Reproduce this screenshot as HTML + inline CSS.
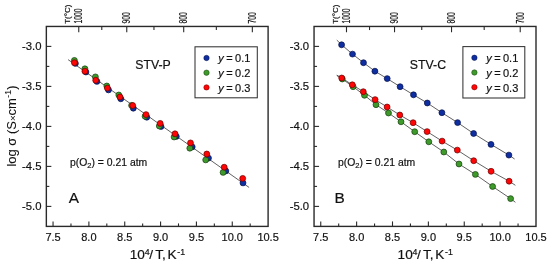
<!DOCTYPE html>
<html><head><meta charset="utf-8"><style>
html,body{margin:0;padding:0;background:#fff;}
svg{display:block;font-family:"Liberation Sans", sans-serif;will-change:transform;} text{stroke:#111;stroke-width:0.18px;}
</style></head><body>
<svg width="550" height="265" viewBox="0 0 550 265">
<rect width="550" height="265" fill="#fff"/>
<line x1="53.05" y1="226.4" x2="53.05" y2="221.4" stroke="#2a2a2a" stroke-width="1.1"/>
<line x1="70.97" y1="226.4" x2="70.97" y2="223.4" stroke="#2a2a2a" stroke-width="1.1"/>
<line x1="88.89" y1="226.4" x2="88.89" y2="221.4" stroke="#2a2a2a" stroke-width="1.1"/>
<line x1="106.81" y1="226.4" x2="106.81" y2="223.4" stroke="#2a2a2a" stroke-width="1.1"/>
<line x1="124.73" y1="226.4" x2="124.73" y2="221.4" stroke="#2a2a2a" stroke-width="1.1"/>
<line x1="142.65" y1="226.4" x2="142.65" y2="223.4" stroke="#2a2a2a" stroke-width="1.1"/>
<line x1="160.58" y1="226.4" x2="160.58" y2="221.4" stroke="#2a2a2a" stroke-width="1.1"/>
<line x1="178.50" y1="226.4" x2="178.50" y2="223.4" stroke="#2a2a2a" stroke-width="1.1"/>
<line x1="196.42" y1="226.4" x2="196.42" y2="221.4" stroke="#2a2a2a" stroke-width="1.1"/>
<line x1="214.34" y1="226.4" x2="214.34" y2="223.4" stroke="#2a2a2a" stroke-width="1.1"/>
<line x1="232.26" y1="226.4" x2="232.26" y2="221.4" stroke="#2a2a2a" stroke-width="1.1"/>
<line x1="250.18" y1="226.4" x2="250.18" y2="223.4" stroke="#2a2a2a" stroke-width="1.1"/>
<text x="53.05" y="241.2" font-size="11" text-anchor="middle" fill="#111">7.5</text>
<text x="88.89" y="241.2" font-size="11" text-anchor="middle" fill="#111">8.0</text>
<text x="124.73" y="241.2" font-size="11" text-anchor="middle" fill="#111">8.5</text>
<text x="160.58" y="241.2" font-size="11" text-anchor="middle" fill="#111">9.0</text>
<text x="196.42" y="241.2" font-size="11" text-anchor="middle" fill="#111">9.5</text>
<text x="232.26" y="241.2" font-size="11" text-anchor="middle" fill="#111">10.0</text>
<text x="268.10" y="241.2" font-size="11" text-anchor="middle" fill="#111">10.5</text>
<line x1="46.35" y1="46.40" x2="51.35" y2="46.40" stroke="#2a2a2a" stroke-width="1.1"/>
<line x1="46.35" y1="66.40" x2="49.35" y2="66.40" stroke="#2a2a2a" stroke-width="1.1"/>
<line x1="46.35" y1="86.40" x2="51.35" y2="86.40" stroke="#2a2a2a" stroke-width="1.1"/>
<line x1="46.35" y1="106.40" x2="49.35" y2="106.40" stroke="#2a2a2a" stroke-width="1.1"/>
<line x1="46.35" y1="126.40" x2="51.35" y2="126.40" stroke="#2a2a2a" stroke-width="1.1"/>
<line x1="46.35" y1="146.40" x2="49.35" y2="146.40" stroke="#2a2a2a" stroke-width="1.1"/>
<line x1="46.35" y1="166.40" x2="51.35" y2="166.40" stroke="#2a2a2a" stroke-width="1.1"/>
<line x1="46.35" y1="186.40" x2="49.35" y2="186.40" stroke="#2a2a2a" stroke-width="1.1"/>
<line x1="46.35" y1="206.40" x2="51.35" y2="206.40" stroke="#2a2a2a" stroke-width="1.1"/>
<text x="41.45" y="50.20" font-size="11.3" text-anchor="end" fill="#111">-3.0</text>
<text x="41.45" y="90.20" font-size="11.3" text-anchor="end" fill="#111">-3.5</text>
<text x="41.45" y="130.20" font-size="11.3" text-anchor="end" fill="#111">-4.0</text>
<text x="41.45" y="170.20" font-size="11.3" text-anchor="end" fill="#111">-4.5</text>
<text x="41.45" y="210.20" font-size="11.3" text-anchor="end" fill="#111">-5.0</text>
<line x1="78.76" y1="26.45" x2="78.76" y2="32.25" stroke="#2a2a2a" stroke-width="1.1"/>
<text transform="translate(82.36,23.6) rotate(-90) scale(0.68,1)" font-size="10" fill="#111">1000</text>
<line x1="101.78" y1="26.45" x2="101.78" y2="30.05" stroke="#2a2a2a" stroke-width="1.1"/>
<line x1="126.76" y1="26.45" x2="126.76" y2="32.25" stroke="#2a2a2a" stroke-width="1.1"/>
<text transform="translate(130.36,23.6) rotate(-90) scale(0.68,1)" font-size="10" fill="#111">900</text>
<line x1="153.96" y1="26.45" x2="153.96" y2="30.05" stroke="#2a2a2a" stroke-width="1.1"/>
<line x1="183.70" y1="26.45" x2="183.70" y2="32.25" stroke="#2a2a2a" stroke-width="1.1"/>
<text transform="translate(187.30,23.6) rotate(-90) scale(0.68,1)" font-size="10" fill="#111">800</text>
<line x1="216.34" y1="26.45" x2="216.34" y2="30.05" stroke="#2a2a2a" stroke-width="1.1"/>
<line x1="252.34" y1="26.45" x2="252.34" y2="32.25" stroke="#2a2a2a" stroke-width="1.1"/>
<text transform="translate(255.94,23.6) rotate(-90) scale(0.68,1)" font-size="10" fill="#111">700</text>
<text transform="translate(70.26,23.8) rotate(-90)" font-size="8" fill="#111">T(°C)</text>
<rect x="46.35" y="26.45" width="221.75" height="199.95" fill="none" stroke="#2a2a2a" stroke-width="1.4"/>
<path d="M68.1,59.63 L249.1,187.44" fill="none" stroke="#5a5a5a" stroke-width="0.95"/>
<circle cx="75.4" cy="63.4" r="2.95" fill="#0e2ea2" stroke="#061048" stroke-width="0.7"/>
<circle cx="85.9" cy="72" r="2.95" fill="#0e2ea2" stroke="#061048" stroke-width="0.7"/>
<circle cx="96.9" cy="81.4" r="2.95" fill="#0e2ea2" stroke="#061048" stroke-width="0.7"/>
<circle cx="108.5" cy="89.9" r="2.95" fill="#0e2ea2" stroke="#061048" stroke-width="0.7"/>
<circle cx="120.8" cy="98.8" r="2.95" fill="#0e2ea2" stroke="#061048" stroke-width="0.7"/>
<circle cx="133.3" cy="108.2" r="2.95" fill="#0e2ea2" stroke="#061048" stroke-width="0.7"/>
<circle cx="146.8" cy="117.2" r="2.95" fill="#0e2ea2" stroke="#061048" stroke-width="0.7"/>
<circle cx="161" cy="126.5" r="2.95" fill="#0e2ea2" stroke="#061048" stroke-width="0.7"/>
<circle cx="176.3" cy="136.4" r="2.95" fill="#0e2ea2" stroke="#061048" stroke-width="0.7"/>
<circle cx="192.2" cy="146.9" r="2.95" fill="#0e2ea2" stroke="#061048" stroke-width="0.7"/>
<circle cx="208.5" cy="158.1" r="2.95" fill="#0e2ea2" stroke="#061048" stroke-width="0.7"/>
<circle cx="225.8" cy="170.9" r="2.95" fill="#0e2ea2" stroke="#061048" stroke-width="0.7"/>
<circle cx="243" cy="182.9" r="2.95" fill="#0e2ea2" stroke="#061048" stroke-width="0.7"/>
<circle cx="74.4" cy="60.4" r="2.95" fill="#3e9a2a" stroke="#163d10" stroke-width="0.7"/>
<circle cx="84.9" cy="68.8" r="2.95" fill="#3e9a2a" stroke="#163d10" stroke-width="0.7"/>
<circle cx="95.4" cy="76.9" r="2.95" fill="#3e9a2a" stroke="#163d10" stroke-width="0.7"/>
<circle cx="106.8" cy="86" r="2.95" fill="#3e9a2a" stroke="#163d10" stroke-width="0.7"/>
<circle cx="118.8" cy="95" r="2.95" fill="#3e9a2a" stroke="#163d10" stroke-width="0.7"/>
<circle cx="131.6" cy="105.4" r="2.95" fill="#3e9a2a" stroke="#163d10" stroke-width="0.7"/>
<circle cx="145.1" cy="116.3" r="2.95" fill="#3e9a2a" stroke="#163d10" stroke-width="0.7"/>
<circle cx="159.3" cy="126" r="2.95" fill="#3e9a2a" stroke="#163d10" stroke-width="0.7"/>
<circle cx="174.1" cy="137" r="2.95" fill="#3e9a2a" stroke="#163d10" stroke-width="0.7"/>
<circle cx="189.8" cy="148.2" r="2.95" fill="#3e9a2a" stroke="#163d10" stroke-width="0.7"/>
<circle cx="205.7" cy="159.9" r="2.95" fill="#3e9a2a" stroke="#163d10" stroke-width="0.7"/>
<circle cx="223.1" cy="172.4" r="2.95" fill="#3e9a2a" stroke="#163d10" stroke-width="0.7"/>
<circle cx="74.4" cy="62.7" r="2.95" fill="#ff0505" stroke="#6a0000" stroke-width="0.7"/>
<circle cx="84.9" cy="71.2" r="2.95" fill="#ff0505" stroke="#6a0000" stroke-width="0.7"/>
<circle cx="95.7" cy="80.3" r="2.95" fill="#ff0505" stroke="#6a0000" stroke-width="0.7"/>
<circle cx="107.4" cy="88.1" r="2.95" fill="#ff0505" stroke="#6a0000" stroke-width="0.7"/>
<circle cx="120" cy="97" r="2.95" fill="#ff0505" stroke="#6a0000" stroke-width="0.7"/>
<circle cx="132.7" cy="105.5" r="2.95" fill="#ff0505" stroke="#6a0000" stroke-width="0.7"/>
<circle cx="146" cy="114.6" r="2.95" fill="#ff0505" stroke="#6a0000" stroke-width="0.7"/>
<circle cx="160.2" cy="123.4" r="2.95" fill="#ff0505" stroke="#6a0000" stroke-width="0.7"/>
<circle cx="175" cy="133.8" r="2.95" fill="#ff0505" stroke="#6a0000" stroke-width="0.7"/>
<circle cx="190.5" cy="142.9" r="2.95" fill="#ff0505" stroke="#6a0000" stroke-width="0.7"/>
<circle cx="206.8" cy="154" r="2.95" fill="#ff0505" stroke="#6a0000" stroke-width="0.7"/>
<circle cx="224.2" cy="167.2" r="2.95" fill="#ff0505" stroke="#6a0000" stroke-width="0.7"/>
<circle cx="242.7" cy="178.4" r="2.95" fill="#ff0505" stroke="#6a0000" stroke-width="0.7"/>
<text x="135.2" y="69.2" font-size="12.3" fill="#111">STV-P</text>
<rect x="195" y="46.8" width="62.30000000000001" height="51.0" fill="#fff" stroke="#333" stroke-width="1.05"/>
<circle cx="206.5" cy="58.0" r="2.7" fill="#0e2ea2" stroke="#061048" stroke-width="0.5"/>
<text x="218.30" y="62.40" font-size="11" fill="#111" font-style="italic">y</text>
<text x="226.30" y="62.40" font-size="11" fill="#111">=</text>
<text x="235.10" y="62.40" font-size="11" fill="#111">0.1</text>
<circle cx="206.5" cy="72.7" r="2.7" fill="#3e9a2a" stroke="#163d10" stroke-width="0.5"/>
<text x="218.30" y="77.10" font-size="11" fill="#111" font-style="italic">y</text>
<text x="226.30" y="77.10" font-size="11" fill="#111">=</text>
<text x="235.10" y="77.10" font-size="11" fill="#111">0.2</text>
<circle cx="206.5" cy="87.4" r="2.7" fill="#ff0505" stroke="#6a0000" stroke-width="0.5"/>
<text x="218.30" y="91.80" font-size="11" fill="#111" font-style="italic">y</text>
<text x="226.30" y="91.80" font-size="11" fill="#111">=</text>
<text x="235.10" y="91.80" font-size="11" fill="#111">0.3</text>
<text x="70" y="165.6" font-size="10.4" fill="#111">p(O<tspan font-size="7.5" dy="2.5">2</tspan><tspan dy="-2.5">) = 0.21 atm</tspan></text>
<text x="68.8" y="203.2" font-size="15.4" fill="#111" stroke="#111" stroke-width="0.25">A</text>
<line x1="320.75" y1="226.4" x2="320.75" y2="221.4" stroke="#2a2a2a" stroke-width="1.1"/>
<line x1="338.69" y1="226.4" x2="338.69" y2="223.4" stroke="#2a2a2a" stroke-width="1.1"/>
<line x1="356.62" y1="226.4" x2="356.62" y2="221.4" stroke="#2a2a2a" stroke-width="1.1"/>
<line x1="374.56" y1="226.4" x2="374.56" y2="223.4" stroke="#2a2a2a" stroke-width="1.1"/>
<line x1="392.50" y1="226.4" x2="392.50" y2="221.4" stroke="#2a2a2a" stroke-width="1.1"/>
<line x1="410.44" y1="226.4" x2="410.44" y2="223.4" stroke="#2a2a2a" stroke-width="1.1"/>
<line x1="428.38" y1="226.4" x2="428.38" y2="221.4" stroke="#2a2a2a" stroke-width="1.1"/>
<line x1="446.31" y1="226.4" x2="446.31" y2="223.4" stroke="#2a2a2a" stroke-width="1.1"/>
<line x1="464.25" y1="226.4" x2="464.25" y2="221.4" stroke="#2a2a2a" stroke-width="1.1"/>
<line x1="482.19" y1="226.4" x2="482.19" y2="223.4" stroke="#2a2a2a" stroke-width="1.1"/>
<line x1="500.12" y1="226.4" x2="500.12" y2="221.4" stroke="#2a2a2a" stroke-width="1.1"/>
<line x1="518.06" y1="226.4" x2="518.06" y2="223.4" stroke="#2a2a2a" stroke-width="1.1"/>
<text x="320.75" y="241.2" font-size="11" text-anchor="middle" fill="#111">7.5</text>
<text x="356.62" y="241.2" font-size="11" text-anchor="middle" fill="#111">8.0</text>
<text x="392.50" y="241.2" font-size="11" text-anchor="middle" fill="#111">8.5</text>
<text x="428.38" y="241.2" font-size="11" text-anchor="middle" fill="#111">9.0</text>
<text x="464.25" y="241.2" font-size="11" text-anchor="middle" fill="#111">9.5</text>
<text x="500.12" y="241.2" font-size="11" text-anchor="middle" fill="#111">10.0</text>
<text x="536.00" y="241.2" font-size="11" text-anchor="middle" fill="#111">10.5</text>
<line x1="314.05" y1="46.40" x2="319.05" y2="46.40" stroke="#2a2a2a" stroke-width="1.1"/>
<line x1="314.05" y1="66.40" x2="317.05" y2="66.40" stroke="#2a2a2a" stroke-width="1.1"/>
<line x1="314.05" y1="86.40" x2="319.05" y2="86.40" stroke="#2a2a2a" stroke-width="1.1"/>
<line x1="314.05" y1="106.40" x2="317.05" y2="106.40" stroke="#2a2a2a" stroke-width="1.1"/>
<line x1="314.05" y1="126.40" x2="319.05" y2="126.40" stroke="#2a2a2a" stroke-width="1.1"/>
<line x1="314.05" y1="146.40" x2="317.05" y2="146.40" stroke="#2a2a2a" stroke-width="1.1"/>
<line x1="314.05" y1="166.40" x2="319.05" y2="166.40" stroke="#2a2a2a" stroke-width="1.1"/>
<line x1="314.05" y1="186.40" x2="317.05" y2="186.40" stroke="#2a2a2a" stroke-width="1.1"/>
<line x1="314.05" y1="206.40" x2="319.05" y2="206.40" stroke="#2a2a2a" stroke-width="1.1"/>
<text x="309.15" y="50.20" font-size="11.3" text-anchor="end" fill="#111">-3.0</text>
<text x="309.15" y="90.20" font-size="11.3" text-anchor="end" fill="#111">-3.5</text>
<text x="309.15" y="130.20" font-size="11.3" text-anchor="end" fill="#111">-4.0</text>
<text x="309.15" y="170.20" font-size="11.3" text-anchor="end" fill="#111">-4.5</text>
<text x="309.15" y="210.20" font-size="11.3" text-anchor="end" fill="#111">-5.0</text>
<line x1="346.49" y1="26.45" x2="346.49" y2="32.25" stroke="#2a2a2a" stroke-width="1.1"/>
<text transform="translate(350.09,23.6) rotate(-90) scale(0.68,1)" font-size="10" fill="#111">1000</text>
<line x1="369.53" y1="26.45" x2="369.53" y2="30.05" stroke="#2a2a2a" stroke-width="1.1"/>
<line x1="394.53" y1="26.45" x2="394.53" y2="32.25" stroke="#2a2a2a" stroke-width="1.1"/>
<text transform="translate(398.13,23.6) rotate(-90) scale(0.68,1)" font-size="10" fill="#111">900</text>
<line x1="421.75" y1="26.45" x2="421.75" y2="30.05" stroke="#2a2a2a" stroke-width="1.1"/>
<line x1="451.52" y1="26.45" x2="451.52" y2="32.25" stroke="#2a2a2a" stroke-width="1.1"/>
<text transform="translate(455.12,23.6) rotate(-90) scale(0.68,1)" font-size="10" fill="#111">800</text>
<line x1="484.19" y1="26.45" x2="484.19" y2="30.05" stroke="#2a2a2a" stroke-width="1.1"/>
<line x1="520.22" y1="26.45" x2="520.22" y2="32.25" stroke="#2a2a2a" stroke-width="1.1"/>
<text transform="translate(523.82,23.6) rotate(-90) scale(0.68,1)" font-size="10" fill="#111">700</text>
<text transform="translate(337.99,23.8) rotate(-90)" font-size="8" fill="#111">T(°C)</text>
<rect x="314.05" y="26.45" width="221.95" height="199.95" fill="none" stroke="#2a2a2a" stroke-width="1.4"/>
<path d="M336.8,40.1 L341.6,44.8 L352.5,54.1 L363.5,62.7 L374.9,71.2 L387.2,78.6 L400.1,86.7 L413.5,94.8 L427.3,103 L441.9,112.7 L457.6,122.6 L473.6,133.5 L491,144.4 L508.9,155.1 L514.6,159.0" fill="none" stroke="#5a5a5a" stroke-width="0.95"/>
<path d="M336.8,75.1 L341.7,78 L352.3,84.8 L363.3,91.7 L375.1,99.6 L387.1,107 L399.8,115 L413.1,122.7 L427.1,131.6 L442.1,141.1 L457.3,150.1 L473.7,160.7 L491.1,171.3 L509.1,181.2 L515.4,185.3" fill="none" stroke="#5a5a5a" stroke-width="0.95"/>
<path d="M336.8,75.6 L342.3,79 L353.1,86.7 L364.5,95.3 L376,104.7 L388.5,113 L401,121.8 L414.7,131.7 L428.8,141.8 L443.8,152 L459,164 L475.4,174.4 L492.6,186.5 L510.6,198.6 L515.4,202.3" fill="none" stroke="#5a5a5a" stroke-width="0.95"/>
<circle cx="341.6" cy="44.8" r="2.95" fill="#0e2ea2" stroke="#061048" stroke-width="0.7"/>
<circle cx="352.5" cy="54.1" r="2.95" fill="#0e2ea2" stroke="#061048" stroke-width="0.7"/>
<circle cx="363.5" cy="62.7" r="2.95" fill="#0e2ea2" stroke="#061048" stroke-width="0.7"/>
<circle cx="374.9" cy="71.2" r="2.95" fill="#0e2ea2" stroke="#061048" stroke-width="0.7"/>
<circle cx="387.2" cy="78.6" r="2.95" fill="#0e2ea2" stroke="#061048" stroke-width="0.7"/>
<circle cx="400.1" cy="86.7" r="2.95" fill="#0e2ea2" stroke="#061048" stroke-width="0.7"/>
<circle cx="413.5" cy="94.8" r="2.95" fill="#0e2ea2" stroke="#061048" stroke-width="0.7"/>
<circle cx="427.3" cy="103" r="2.95" fill="#0e2ea2" stroke="#061048" stroke-width="0.7"/>
<circle cx="441.9" cy="112.7" r="2.95" fill="#0e2ea2" stroke="#061048" stroke-width="0.7"/>
<circle cx="457.6" cy="122.6" r="2.95" fill="#0e2ea2" stroke="#061048" stroke-width="0.7"/>
<circle cx="473.6" cy="133.5" r="2.95" fill="#0e2ea2" stroke="#061048" stroke-width="0.7"/>
<circle cx="491" cy="144.4" r="2.95" fill="#0e2ea2" stroke="#061048" stroke-width="0.7"/>
<circle cx="508.9" cy="155.1" r="2.95" fill="#0e2ea2" stroke="#061048" stroke-width="0.7"/>
<circle cx="342.3" cy="79" r="2.95" fill="#3e9a2a" stroke="#163d10" stroke-width="0.7"/>
<circle cx="353.1" cy="86.7" r="2.95" fill="#3e9a2a" stroke="#163d10" stroke-width="0.7"/>
<circle cx="364.5" cy="95.3" r="2.95" fill="#3e9a2a" stroke="#163d10" stroke-width="0.7"/>
<circle cx="376" cy="104.7" r="2.95" fill="#3e9a2a" stroke="#163d10" stroke-width="0.7"/>
<circle cx="388.5" cy="113" r="2.95" fill="#3e9a2a" stroke="#163d10" stroke-width="0.7"/>
<circle cx="401" cy="121.8" r="2.95" fill="#3e9a2a" stroke="#163d10" stroke-width="0.7"/>
<circle cx="414.7" cy="131.7" r="2.95" fill="#3e9a2a" stroke="#163d10" stroke-width="0.7"/>
<circle cx="428.8" cy="141.8" r="2.95" fill="#3e9a2a" stroke="#163d10" stroke-width="0.7"/>
<circle cx="443.8" cy="152" r="2.95" fill="#3e9a2a" stroke="#163d10" stroke-width="0.7"/>
<circle cx="459" cy="164" r="2.95" fill="#3e9a2a" stroke="#163d10" stroke-width="0.7"/>
<circle cx="475.4" cy="174.4" r="2.95" fill="#3e9a2a" stroke="#163d10" stroke-width="0.7"/>
<circle cx="492.6" cy="186.5" r="2.95" fill="#3e9a2a" stroke="#163d10" stroke-width="0.7"/>
<circle cx="510.6" cy="198.6" r="2.95" fill="#3e9a2a" stroke="#163d10" stroke-width="0.7"/>
<circle cx="341.7" cy="78" r="2.95" fill="#ff0505" stroke="#6a0000" stroke-width="0.7"/>
<circle cx="352.3" cy="84.8" r="2.95" fill="#ff0505" stroke="#6a0000" stroke-width="0.7"/>
<circle cx="363.3" cy="91.7" r="2.95" fill="#ff0505" stroke="#6a0000" stroke-width="0.7"/>
<circle cx="375.1" cy="99.6" r="2.95" fill="#ff0505" stroke="#6a0000" stroke-width="0.7"/>
<circle cx="387.1" cy="107" r="2.95" fill="#ff0505" stroke="#6a0000" stroke-width="0.7"/>
<circle cx="399.8" cy="115" r="2.95" fill="#ff0505" stroke="#6a0000" stroke-width="0.7"/>
<circle cx="413.1" cy="122.7" r="2.95" fill="#ff0505" stroke="#6a0000" stroke-width="0.7"/>
<circle cx="427.1" cy="131.6" r="2.95" fill="#ff0505" stroke="#6a0000" stroke-width="0.7"/>
<circle cx="442.1" cy="141.1" r="2.95" fill="#ff0505" stroke="#6a0000" stroke-width="0.7"/>
<circle cx="457.3" cy="150.1" r="2.95" fill="#ff0505" stroke="#6a0000" stroke-width="0.7"/>
<circle cx="473.7" cy="160.7" r="2.95" fill="#ff0505" stroke="#6a0000" stroke-width="0.7"/>
<circle cx="491.1" cy="171.3" r="2.95" fill="#ff0505" stroke="#6a0000" stroke-width="0.7"/>
<circle cx="509.1" cy="181.2" r="2.95" fill="#ff0505" stroke="#6a0000" stroke-width="0.7"/>
<text x="409.8" y="69.3" font-size="12.3" fill="#111">STV-C</text>
<rect x="462.9" y="46.6" width="61.89999999999998" height="51.4" fill="#fff" stroke="#333" stroke-width="1.05"/>
<circle cx="474.4" cy="57.8" r="2.7" fill="#0e2ea2" stroke="#061048" stroke-width="0.5"/>
<text x="486.20" y="62.20" font-size="11" fill="#111" font-style="italic">y</text>
<text x="494.20" y="62.20" font-size="11" fill="#111">=</text>
<text x="503.00" y="62.20" font-size="11" fill="#111">0.1</text>
<circle cx="474.4" cy="72.5" r="2.7" fill="#3e9a2a" stroke="#163d10" stroke-width="0.5"/>
<text x="486.20" y="76.90" font-size="11" fill="#111" font-style="italic">y</text>
<text x="494.20" y="76.90" font-size="11" fill="#111">=</text>
<text x="503.00" y="76.90" font-size="11" fill="#111">0.2</text>
<circle cx="474.4" cy="87.19999999999999" r="2.7" fill="#ff0505" stroke="#6a0000" stroke-width="0.5"/>
<text x="486.20" y="91.60" font-size="11" fill="#111" font-style="italic">y</text>
<text x="494.20" y="91.60" font-size="11" fill="#111">=</text>
<text x="503.00" y="91.60" font-size="11" fill="#111">0.3</text>
<text x="338" y="165.6" font-size="10.4" fill="#111">p(O<tspan font-size="7.5" dy="2.5">2</tspan><tspan dy="-2.5">) = 0.21 atm</tspan></text>
<text x="334.6" y="203.2" font-size="15.4" fill="#111" stroke="#111" stroke-width="0.25">B</text>
<text x="129.80" y="258.9" font-size="13.6" fill="#111">10</text>
<text x="144.80" y="254.8" font-size="8.8" fill="#111">4</text>
<text x="149.30" y="258.9" font-size="13.6" fill="#111">/</text>
<text x="155.20" y="258.9" font-size="13.6" fill="#111">T</text>
<text x="162.00" y="258.9" font-size="13.6" fill="#111">,</text>
<text x="167.40" y="258.9" font-size="13.6" fill="#111">K</text>
<text x="177.30" y="254.8" font-size="8.8" fill="#111">-1</text>
<text x="397.60" y="258.9" font-size="13.6" fill="#111">10</text>
<text x="412.60" y="254.8" font-size="8.8" fill="#111">4</text>
<text x="417.10" y="258.9" font-size="13.6" fill="#111">/</text>
<text x="423.00" y="258.9" font-size="13.6" fill="#111">T</text>
<text x="429.80" y="258.9" font-size="13.6" fill="#111">,</text>
<text x="435.20" y="258.9" font-size="13.6" fill="#111">K</text>
<text x="445.10" y="254.8" font-size="8.8" fill="#111">-1</text>
<text transform="translate(15.9,166.6) rotate(-90)" font-size="13" fill="#111" style="stroke-width:0.05px">log σ (S<tspan font-size="9.5">×</tspan>cm<tspan font-size="9.5" dy="-5">-1</tspan><tspan dy="5">)</tspan></text>
</svg></body></html>
